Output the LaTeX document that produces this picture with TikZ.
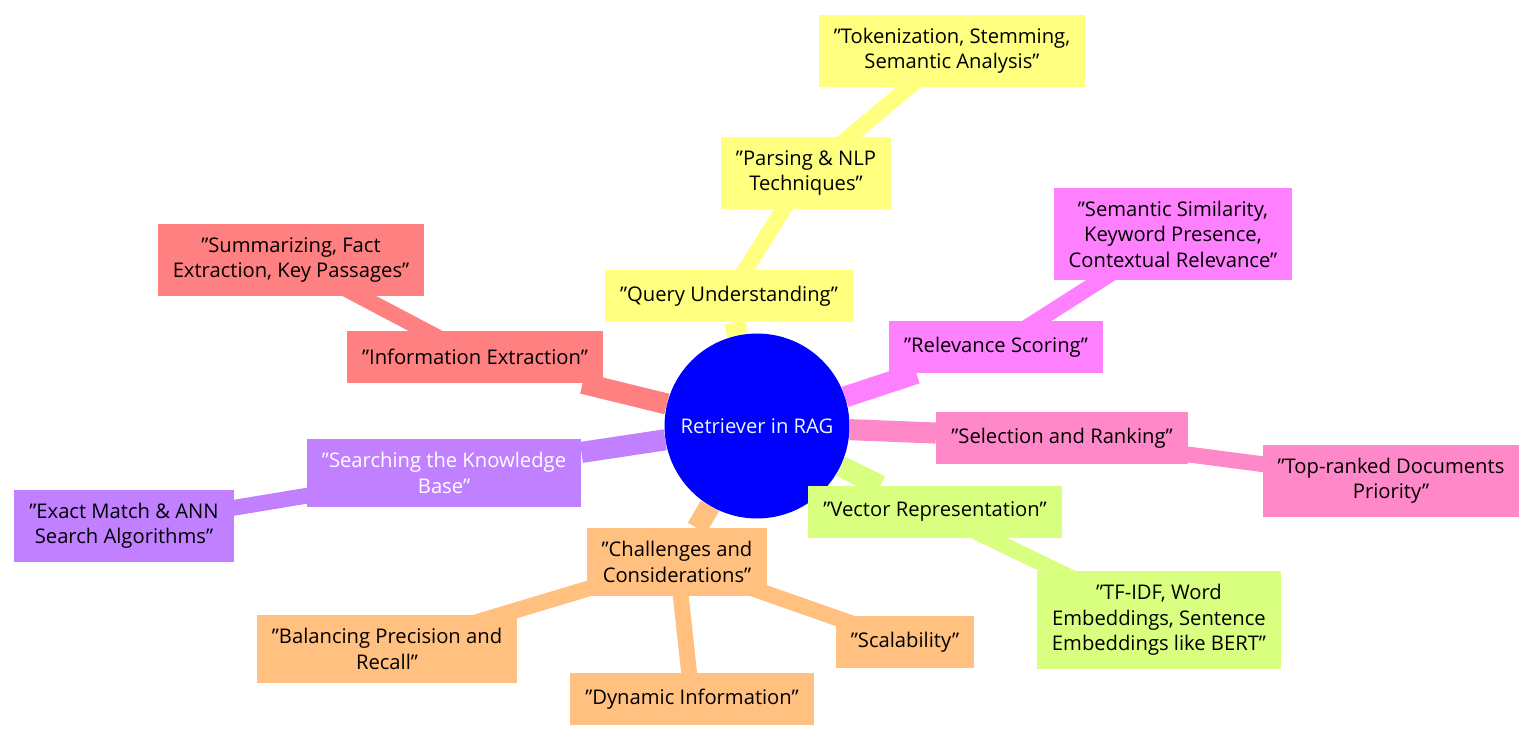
\documentclass[tikz,border=0pt]{standalone}
\usepackage{fontspec}
\setmainfont{Open Sans}
\usetikzlibrary{backgrounds}
\definecolor{cRoot}{HTML}{0000FF}
\definecolor{cQuery}{HTML}{FFFF80}
\definecolor{cRel}{HTML}{FF80FF}
\definecolor{cSel}{HTML}{FF88C8}
\definecolor{cVec}{HTML}{D8FF80}
\definecolor{cChal}{HTML}{FFC080}
\definecolor{cSearch}{HTML}{C080FF}
\definecolor{cInfo}{HTML}{FF8080}
\begin{document}
\begin{tikzpicture}
[x=0.02cm,y=-0.02cm,
 every node/.style={font=\fontsize{11.5}{14.5}\selectfont,align=center,inner xsep=0.3cm,inner ysep=0.26cm,minimum height=1.04cm},
 box/.style={rectangle,fill=#1,
   append after command={[line width=1.5pt,draw=#1!40!cyan!50!white]
     (\tikzlastnode.south west) -- (\tikzlastnode.south east)}},
 trunk/.style={line width=12pt,draw=#1},
 twig/.style={line width=9pt,draw=#1}]
\useasboundingbox (0,0) rectangle (1536,739);
\node[circle,fill=cRoot,text=white!90!cyan,minimum size=3.7cm,inner sep=0pt] (root) at (757,426) {Retriever in RAG};

\node[box=cQuery] (query) at (729,296)  {"Query Understanding"};
\node[box=cQuery] (parse) at (806,173)  {"Parsing \& NLP\\Techniques"};
\node[box=cQuery] (token) at (952,51)   {"Tokenization, Stemming,\\Semantic Analysis"};
\node[box=cRel]   (rel)   at (996,347)  {"Relevance Scoring"};
\node[box=cRel]   (sim)   at (1173,234) {"Semantic Similarity,\\Keyword Presence,\\Contextual Relevance"};
\node[box=cSel]   (sel)   at (1062,438) {"Selection and Ranking"};
\node[box=cSel]   (top)   at (1391,481) {"Top-ranked Documents\\Priority"};
\node[box=cVec]   (vec)   at (935,512)  {"Vector Representation"};
\node[box=cVec]   (tfidf) at (1159,620) {"TF-IDF, Word\\Embeddings, Sentence\\Embeddings like BERT"};
\node[box=cChal]  (chal)  at (677,562)  {"Challenges and\\Considerations"};
\node[box=cChal]  (bal)   at (387,649)  {"Balancing Precision and\\Recall"};
\node[box=cChal]  (dyn)   at (692,699)  {"Dynamic Information"};
\node[box=cChal]  (scal)  at (905,642)  {"Scalability"};
\node[box=cSearch,text=white] (search) at (444,473) {"Searching the Knowledge\\Base"};
\node[box=cSearch] (exact) at (124,526) {"Exact Match \& ANN\\Search Algorithms"};
\node[box=cInfo]  (info)  at (475,357)  {"Information Extraction"};
\node[box=cInfo]  (summ)  at (291,260)  {"Summarizing, Fact\\Extraction, Key Passages"};

% connectors behind the boxes
\begin{scope}[on background layer]
\draw[trunk=cQuery]  (root) -- (query);
\draw[trunk=cRel]    (root) -- (rel);
\draw[trunk=cSel]    (root) -- (sel);
\draw[trunk=cVec]    (root) -- (vec);
\draw[trunk=cChal]   (root) -- (chal);
\draw[trunk=cSearch] (root) -- (search);
\draw[trunk=cInfo]   (root) -- (info);
\draw[twig=cQuery]   (query.center) -- (parse.center);
\draw[twig=cQuery]   (parse.center) -- (token.center);
\draw[twig=cRel]     (rel.center) -- (sim.center);
\draw[twig=cSel]     (sel.center) -- (top.center);
\draw[twig=cVec]     (vec.center) -- (tfidf.center);
\draw[twig=cChal]    (chal.center) -- (bal.center);
\draw[twig=cChal]    (chal.center) -- (dyn.center);
\draw[twig=cChal]    (chal.center) -- (scal.center);
\draw[twig=cSearch]  (search.center) -- (exact.center);
\draw[twig=cInfo]    (info.center) -- (summ.center);
\end{scope}
\end{tikzpicture}
\end{document}
